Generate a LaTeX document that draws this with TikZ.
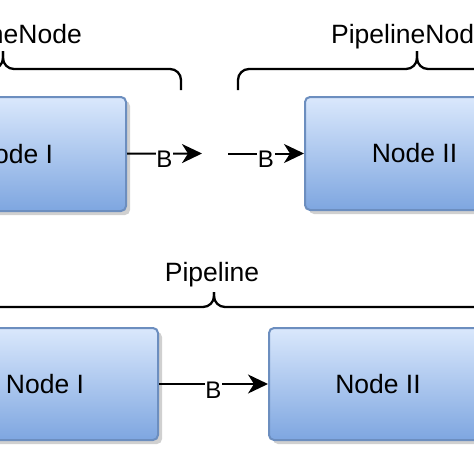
\documentclass[tikz,border=0pt]{standalone}
\usepackage{fontspec}
\setmainfont{Liberation Sans}
\usetikzlibrary{arrows.meta,shadows}
\definecolor{boxtop}{HTML}{DAE8FC}
\definecolor{boxbot}{HTML}{7EA6E0}
\definecolor{boxline}{HTML}{6C8EBF}
\definecolor{shadowgray}{HTML}{D0D0D0}
\begin{document}
\begin{tikzpicture}[x=1pt,y=-1pt,
  box/.style={draw=boxline, line width=2pt, rounded corners=5pt,
    top color=boxtop, bottom color=boxbot,
    drop shadow={shadow xshift=4pt, shadow yshift=-4pt, fill=shadowgray, opacity=1},
    font=\fontsize{26.5}{30}\selectfont, inner sep=0pt},
  grouplabel/.style={anchor=base, font=\fontsize{26.5}{30}\selectfont, inner sep=0pt},
  brace/.style={draw=black, line width=2.3pt, rounded corners=11pt},
  conn/.style={draw=black, line width=2pt, -{Stealth[length=20pt 0 0,width=19pt 0 0,inset=6pt 0]}},
  edgelabel/.style={fill=white, inner sep=0.5pt, font=\fontsize{24}{26}\selectfont, yshift=-6pt}
]
\clip (0,0) rectangle (474,474);
\fill[white] (0,0) rectangle (474,474);

% boxes
\node[box, minimum width=224pt, minimum height=114pt] (n1) at (14,154) {Node I};
\node[box, minimum width=219pt, minimum height=113pt] (n2) at (414.5,153.5) {Node II};
\node[box, minimum width=226pt, minimum height=112pt] (n3) at (45,384) {Node I};
\node[box, minimum width=218pt, minimum height=112pt] (n4) at (378,384) {Node II};

% group labels
\node[grouplabel] (g1) at (3,43) {PipelineNode};
\node[grouplabel] (g2) at (410,43) {PipelineNode};
\node[grouplabel] (g3) at (212,281) {Pipeline};

% braces
\draw[brace] (181,90) |- (3,69) -- (3,51);
\draw[brace] (-175,90) |- (3,69) -- (3,51);
\draw[brace] (238,90) |- (417,69) -- (417,51);
\draw[brace] (596,90) |- (417,69) -- (417,51);
\draw[brace] (-300,307) -- (214,307) -- (214,292);
\draw[brace] (700,307) -- (214,307) -- (214,292);

% connectors
\coordinate (t1) at (202,153.5);
\coordinate (t2) at (228,153.5);
\draw[conn] (n1) -- (t1) node[edgelabel, midway] (b1) {B};
\draw[conn] (t2) -- (n2) node[edgelabel, midway] (b2) {B};
\draw[conn] (n3) -- (n4) node[edgelabel, midway] (b3) {B};
\end{tikzpicture}
\end{document}
